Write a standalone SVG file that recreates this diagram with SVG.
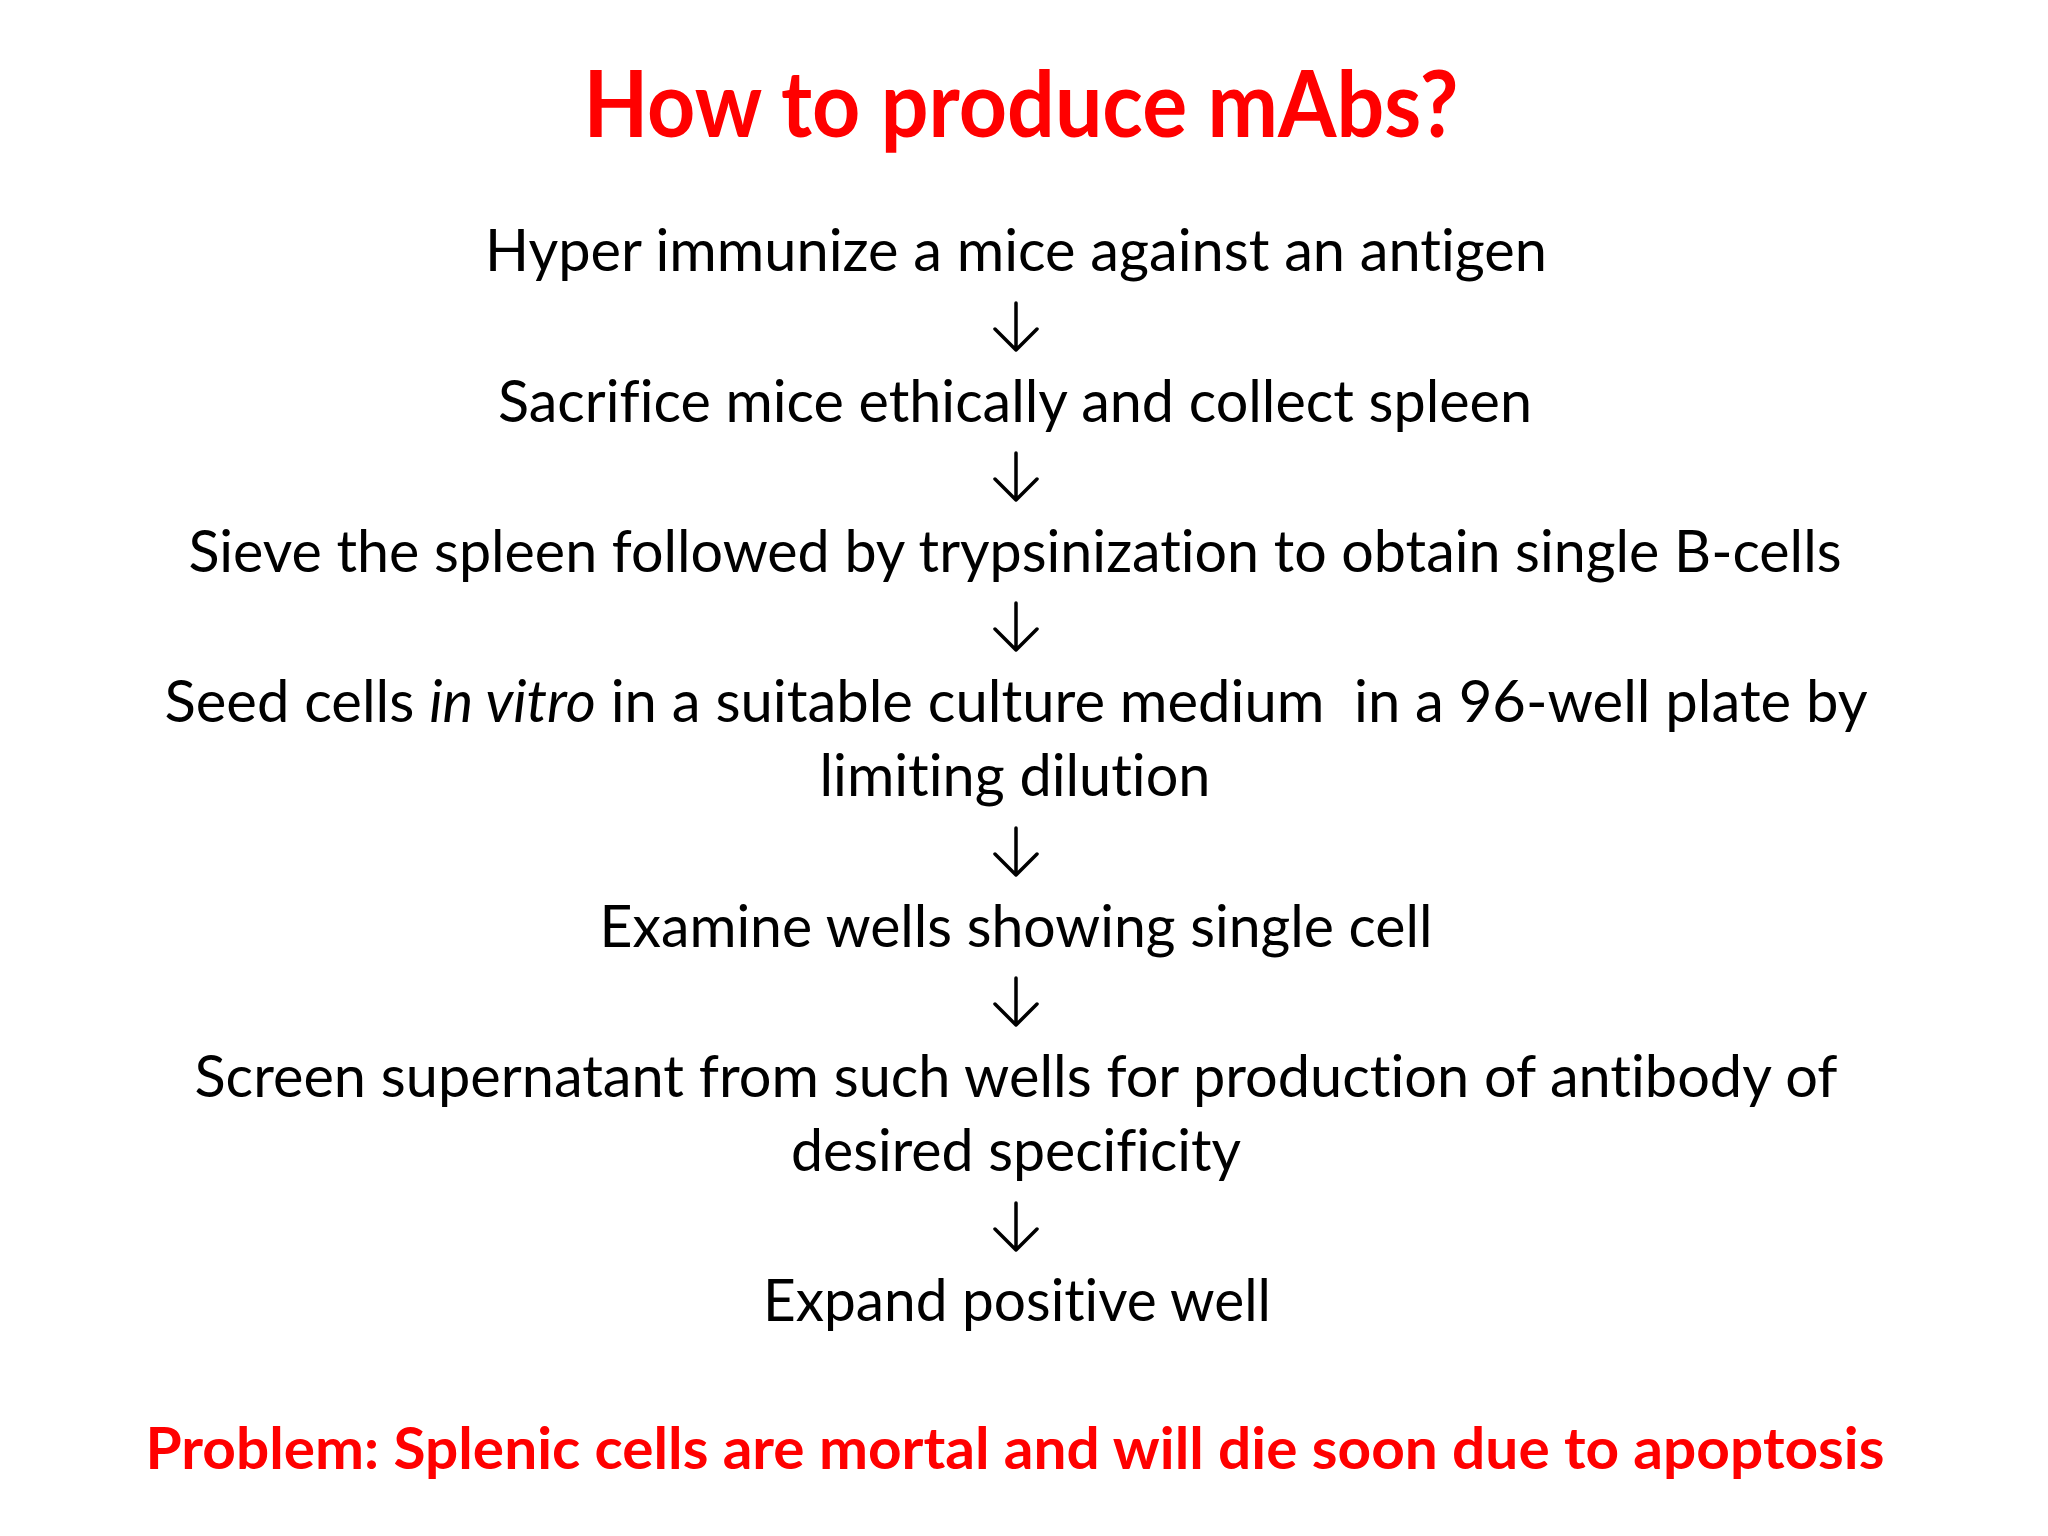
<svg xmlns="http://www.w3.org/2000/svg" width="2048" height="1536" viewBox="0 0 2048 1536">
<style>
.t{font-family:Lato,"Open Sans","Liberation Sans",sans-serif;text-anchor:middle;font-variant-ligatures:none;}
.title{font-size:91px;font-weight:700;fill:#ff0000;}
.body{font-size:58px;fill:#000;}
.prob{font-size:57px;font-weight:700;fill:#ff0000;}
.arr{fill:none;stroke:#000;stroke-width:3.5;stroke-linecap:round;stroke-linejoin:round;}
</style>
<defs>
<path id="arrow" class="arr" d="M0,0 V47 M-21,26 L0,47 L21,26"/>
</defs>
<rect width="2048" height="1536" fill="#fff"/>
<g id="title"><text class="t title" x="1021" y="137" textLength="875" lengthAdjust="spacingAndGlyphs">How to produce mAbs?</text></g>
<g id="step1"><text class="t body" x="1016" y="271" textLength="1062" lengthAdjust="spacingAndGlyphs">Hyper immunize a mice against an antigen</text></g>
<g id="step2"><text class="t body" x="1015" y="422" textLength="1034" lengthAdjust="spacingAndGlyphs">Sacrifice mice ethically and collect spleen</text></g>
<g id="step3"><text class="t body" x="1015" y="572" textLength="1653" lengthAdjust="spacingAndGlyphs">Sieve the spleen followed by trypsinization to obtain single B-cells</text></g>
<g id="step4">
<text class="t body" x="1016" y="722" textLength="1703" lengthAdjust="spacingAndGlyphs" xml:space="preserve">Seed cells <tspan font-style="italic">in vitro</tspan> in a suitable culture medium  in a 96-well plate by</text>
<text class="t body" x="1015" y="796" textLength="391" lengthAdjust="spacingAndGlyphs">limiting dilution</text>
</g>
<g id="step5"><text class="t body" x="1016" y="947" textLength="833" lengthAdjust="spacingAndGlyphs">Examine wells showing single cell</text></g>
<g id="step6">
<text class="t body" x="1016" y="1097" textLength="1643" lengthAdjust="spacingAndGlyphs">Screen supernatant from such wells for production of antibody of</text>
<text class="t body" x="1016" y="1171" textLength="450" lengthAdjust="spacingAndGlyphs">desired specificity</text>
</g>
<g id="step7"><text class="t body" x="1017" y="1321" textLength="508" lengthAdjust="spacingAndGlyphs">Expand positive well</text></g>
<g id="problem"><text class="t prob" x="1015" y="1469" textLength="1739" lengthAdjust="spacingAndGlyphs">Problem: Splenic cells are mortal and will die soon due to apoptosis</text></g>
<g id="connectors">
<use href="#arrow" x="1016" y="303"/>
<use href="#arrow" x="1016" y="453"/>
<use href="#arrow" x="1016" y="603"/>
<use href="#arrow" x="1016" y="828"/>
<use href="#arrow" x="1016" y="978"/>
<use href="#arrow" x="1016" y="1203"/>
</g>
</svg>
